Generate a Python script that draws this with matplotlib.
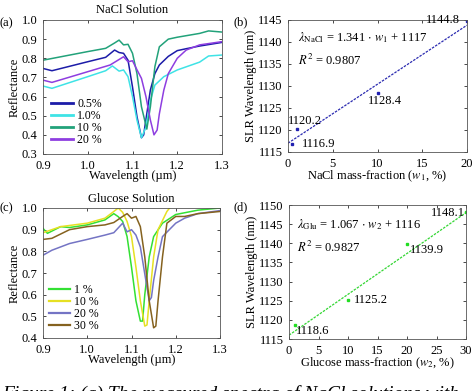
import matplotlib
matplotlib.use("Agg")
import matplotlib.pyplot as plt
import numpy as np

plt.rcParams['font.family'] = ['Liberation Serif', 'DejaVu Serif']
plt.rcParams['mathtext.fontset'] = 'stix'
plt.rcParams['font.size'] = 9

# ---- NaCl spectra (panel a) ----
wl_a = [0.90, 0.92, 1.00, 1.04, 1.06, 1.07, 1.08, 1.09, 1.10, 1.11, 1.12, 1.125,
        1.13, 1.14, 1.15, 1.16, 1.18, 1.20, 1.22, 1.25, 1.30]
r_05 = [0.747, 0.735, 0.782, 0.805, 0.843, 0.830, 0.826, 0.790, 0.650, 0.495, 0.385, 0.400,
        0.480, 0.635, 0.720, 0.765, 0.810, 0.840, 0.850, 0.864, 0.883]
wl_a1 = [0.90, 0.92, 1.00, 1.04, 1.055, 1.065, 1.07, 1.08, 1.09, 1.10, 1.11, 1.12,
         1.13, 1.14, 1.15, 1.17, 1.20, 1.25, 1.27, 1.30]
r_10 = [0.655, 0.643, 0.704, 0.735, 0.760, 0.742, 0.733, 0.739, 0.704, 0.600, 0.477, 0.385,
        0.440, 0.580, 0.660, 0.704, 0.739, 0.780, 0.812, 0.817]
wl_a10 = [0.90, 1.00, 1.04, 1.06, 1.07, 1.08, 1.09, 1.10, 1.11, 1.12, 1.132, 1.14,
          1.15, 1.16, 1.18, 1.20, 1.25, 1.27, 1.30]
r_100 = [0.790, 0.835, 0.852, 0.880, 0.895, 0.870, 0.873, 0.826, 0.720, 0.547, 0.430, 0.547,
         0.756, 0.860, 0.900, 0.910, 0.930, 0.943, 0.937]
wl_a20 = [0.90, 0.92, 1.00, 1.05, 1.08, 1.09, 1.10, 1.11, 1.12, 1.13, 1.14, 1.148,
          1.155, 1.16, 1.17, 1.18, 1.20, 1.22, 1.25, 1.30]
r_200 = [0.686, 0.674, 0.730, 0.765, 0.808, 0.782, 0.787, 0.740, 0.695, 0.600, 0.477, 0.400,
         0.425, 0.510, 0.634, 0.720, 0.800, 0.843, 0.870, 0.887]
labels_a = ['0.5%', '1.0%', '10 %', '20 %']

# ---- Glucose spectra (panel c) ----
wl_c1 = [0.90, 0.91, 0.94, 0.96, 1.00, 1.04, 1.06, 1.07, 1.08, 1.09, 1.10, 1.11,
         1.12, 1.125, 1.13, 1.14, 1.15, 1.17, 1.20, 1.25, 1.30]
g_1 = [0.906, 0.883, 0.914, 0.910, 0.922, 0.945, 0.974, 0.960, 0.938, 0.868, 0.727, 0.572,
       0.478, 0.478, 0.600, 0.774, 0.868, 0.930, 0.970, 0.990, 1.000]
wl_c10 = [0.90, 0.94, 1.00, 1.04, 1.06, 1.07, 1.08, 1.09, 1.10, 1.11, 1.12, 1.13,
          1.135, 1.14, 1.15, 1.16, 1.18, 1.19, 1.22, 1.30]
g_10 = [0.886, 0.914, 0.930, 0.953, 0.984, 1.000, 0.980, 0.938, 0.868, 0.727, 0.572, 0.455,
        0.460, 0.572, 0.774, 0.900, 0.984, 1.010, 1.020, 1.020]
wl_c20 = [0.90, 0.92, 0.96, 1.00, 1.04, 1.06, 1.08, 1.09, 1.10, 1.11, 1.12, 1.13,
          1.14, 1.145, 1.15, 1.16, 1.17, 1.20, 1.22, 1.25, 1.30]
g_20 = [0.782, 0.805, 0.836, 0.855, 0.875, 0.886, 0.930, 0.890, 0.900, 0.875, 0.820, 0.696,
        0.572, 0.587, 0.665, 0.774, 0.868, 0.930, 0.953, 0.974, 0.988]
wl_c30 = [0.90, 0.92, 0.96, 1.00, 1.04, 1.06, 1.08, 1.09, 1.10, 1.11, 1.12, 1.13,
          1.14, 1.15, 1.155, 1.16, 1.17, 1.18, 1.20, 1.22, 1.25, 1.30]
g_30 = [0.855, 0.860, 0.900, 0.914, 0.922, 0.933, 0.961, 0.974, 0.953, 0.961, 0.914, 0.774,
        0.572, 0.447, 0.455, 0.572, 0.774, 0.930, 0.961, 0.961, 0.974, 0.984]
labels_c = ['1 %', '10 %', '20 %', '30 %']

# ---- SLR points ----
w_nacl = [0.5, 1, 10, 20]
slr_nacl = [1116.9, 1120.2, 1128.4, 1144.8]
w_glu = [1, 10, 20, 30]
slr_glu = [1118.6, 1125.2, 1139.9, 1148.1]

fig = plt.figure(figsize=(4.74, 3.91), dpi=100)
W, H = 474, 391


def box(l, t, r, b):
    return [l / W, 1 - b / H, (r - l) / W, (b - t) / H]


def style(ax):
    ax.tick_params(direction='in', length=2.5, width=0.5, top=True, right=True, pad=4)
    for s in ax.spines.values():
        s.set_linewidth(0.6)
        s.set_color('#555555')


# panel a
ax_a = fig.add_axes(box(43, 20, 222, 154))
cols_a = ['#1c1ca8', '#3fe3e6', '#22a27a', '#8e3ee0']
for x, y, c, lab in zip([wl_a, wl_a1, wl_a10, wl_a20], [r_05, r_10, r_100, r_200], cols_a, labels_a):
    ax_a.plot(x, y, color=c, lw=1.1, label=lab)
ax_a.set_xlim(0.9, 1.3)
ax_a.set_ylim(0.3, 1.0)
ax_a.set_xticks([0.9, 1.0, 1.1, 1.2, 1.3])
ax_a.set_yticks(np.arange(0.3, 1.01, 0.1))
ax_a.set_xlabel('Wavelength (µm)', labelpad=-1)
ax_a.set_ylabel('Reflectance', labelpad=1)
ax_a.set_title('NaCl Solution', fontsize=9, pad=5)
leg = ax_a.legend(loc='lower left', frameon=False, handlelength=1.8, labelspacing=0.0,
                  borderaxespad=0.3, handletextpad=0.4, fontsize=8.5)
for h in leg.get_lines():
    h.set_linewidth(2)
style(ax_a)

# panel c
ax_c = fig.add_axes(box(43, 208, 220, 338))
cols_c = ['#33e033', '#e6e023', '#7474c4', '#85621f']
for x, y, c, lab in zip([wl_c1, wl_c10, wl_c20, wl_c30], [g_1, g_10, g_20, g_30], cols_c, labels_c):
    ax_c.plot(x, y, color=c, lw=1.1, label=lab)
ax_c.set_xlim(0.9, 1.3)
ax_c.set_ylim(0.4, 1.0)
ax_c.set_xticks([0.9, 1.0, 1.1, 1.2, 1.3])
ax_c.set_yticks(np.arange(0.4, 1.01, 0.1))
ax_c.set_xlabel('Wavelength (µm)', labelpad=-1)
ax_c.set_ylabel('Reflectance', labelpad=1)
ax_c.set_title('Glucose Solution', fontsize=9, pad=4)
leg = ax_c.legend(loc='lower left', frameon=False, handlelength=1.8, labelspacing=0.0,
                  borderaxespad=0.1, handletextpad=0.3, fontsize=8.5)
for h in leg.get_lines():
    h.set_linewidth(1.6)
style(ax_c)

# panel b
ax_b = fig.add_axes(box(288, 20, 467, 152))
xf = np.array([0, 20])
ax_b.plot(xf, 1.341 * xf + 1117, color='#2a2ab0', lw=0.9, ls=(0, (2, 1)))
ax_b.plot(w_nacl, slr_nacl, 's', color='#2020b0', ms=2)
ax_b.set_xlim(0, 20)
ax_b.set_ylim(1115, 1145)
ax_b.set_xticks([0, 5, 10, 15, 20])
ax_b.set_yticks(range(1115, 1146, 5))
ax_b.set_xlabel('NaCl mass-fraction ($w_1$, %)', labelpad=-1)
ax_b.set_ylabel('SLR Wavelength (nm)', labelpad=1)
offs_b = [(1.0, -0.1, 'left'), (-1.0, 1.8, 'left'), (-1.1, -1.8, 'left'), (-0.8, 0.1, 'right')]
for xv, yv, (dx, dy, ha) in zip(w_nacl, slr_nacl, offs_b):
    ax_b.text(xv + dx, yv + dy, f'{yv:.1f}', ha=ha, va='center')
ax_b.text(1.1, 1140.9, r'$\lambda_{\mathrm{NaCl}}$ = 1.341 $\cdot$ $w_1$ + 1117', va='center', fontsize=9)
ax_b.text(1.1, 1135.7, r'$R^2$ = 0.9807', va='center', fontsize=9)
style(ax_b)

# panel d
ax_d = fig.add_axes(box(289, 205, 466, 339))
xg = np.array([0, 30])
ax_d.plot(xg, 1.067 * xg + 1116, color='#33d633', lw=0.9, ls=(0, (2, 1)))
ax_d.plot(w_glu, slr_glu, 's', color='#22dd22', ms=2)
ax_d.set_xlim(0, 30)
ax_d.set_ylim(1115, 1150)
ax_d.set_xticks(range(0, 31, 5))
ax_d.set_yticks(range(1115, 1151, 5))
ax_d.set_xlabel('Glucose mass-fraction ($w_2$, %)', labelpad=-1)
ax_d.set_ylabel('SLR Wavelength (nm)', labelpad=1)
offs_d = [(0.1, -1.5, 'left'), (1.0, 0, 'left'), (0.5, -1.6, 'left'), (-0.2, -0.3, 'right')]
for xv, yv, (dx, dy, ha) in zip(w_glu, slr_glu, offs_d):
    ax_d.text(xv + dx, yv + dy, f'{yv:.1f}', ha=ha, va='center')
ax_d.text(1.3, 1145.0, r'$\lambda_{\mathrm{Glu}}$ = 1.067 $\cdot$ $w_2$ + 1116', va='center', fontsize=9)
ax_d.text(1.3, 1138.9, r'$R^2$ = 0.9827', va='center', fontsize=9)
style(ax_d)

# panel letters
for lab, x, y in [('(a)', 0, 23), ('(b)', 233, 22), ('(c)', 0, 208), ('(d)', 233, 207)]:
    fig.text(x / W, 1 - y / H, lab, ha='left', va='center', fontsize=9)

# caption, mostly cut off at the bottom edge
fig.text(2 / W, 1 - 385 / H, 'Figure 1: (a) The measured spectra of NaCl solutions with',
         ha='left', va='top', fontsize=14, style='italic')

fig.savefig('out.png', dpi=100)
